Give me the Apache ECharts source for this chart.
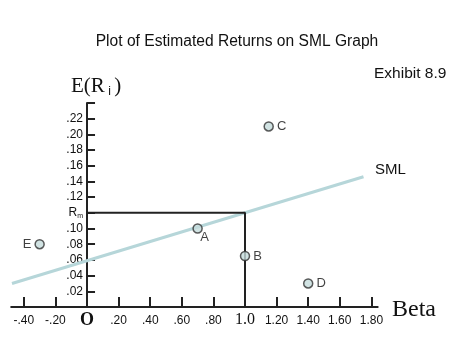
<!DOCTYPE html>
<html>
<head>
<meta charset="utf-8">
<script src="https://cdn.jsdelivr.net/npm/echarts@6/dist/echarts.min.js"></script>
<style>
html,body{margin:0;padding:0;background:#fff;}
#chart{width:474px;height:355px;}
</style>
</head>
<body>
<div id="chart"></div>
<script>
// ---- data (axis units) ----
const pointNames = ['A', 'B', 'C', 'D', 'E'];
const pointBeta = [0.70, 1.00, 1.15, 1.40, -0.30];
const pointReturn = [0.10, 0.065, 0.23, 0.03, 0.08];
const labelPos = ['A', 'right', 'right', 'right', 'left'];

const smlBeta = [-0.475, 1.75];
const smlReturn = [0.030, 0.166];

const rmBeta = [0, 1.0, 1.0];
const rmReturn = [0.12, 0.12, 0];

const xTickValues = [-0.4, -0.2, 0, 0.2, 0.4, 0.6, 0.8, 1.0, 1.2, 1.4, 1.6, 1.8];
const xTickLabels = ['-.40', '-.20', 'O', '.20', '.40', '.60', '.80', '1.0', '1.20', '1.40', '1.60', '1.80'];
const yTickLabels = ['', '.02', '.04', '.06', '.08', '.10', 'Rm', '.12', '.14', '.16', '.18', '.20', '.22', ''];

const X_MIN = -0.48, X_MAX = 1.84;
const GRID_LEFT = 11.2, GRID_RIGHT = 96.3;

const chart = echarts.init(document.getElementById('chart'), null, {renderer: 'canvas'});
const gridWidth = 474 - GRID_LEFT - GRID_RIGHT;
const yAxisOffset = -gridWidth * (0 - X_MIN) / (X_MAX - X_MIN);

const scatterData = pointNames.map((n, i) => {
  const pos = labelPos[i];
  const label = pos === 'A'
    ? {show: true, position: [8, 8], formatter: n}
    : {show: true, position: pos, distance: 3, formatter: n};
  return {name: n, value: [pointBeta[i], pointReturn[i]], label: label};
});

const option = {
  animation: false,
  backgroundColor: '#fff',
  title: {
    text: 'Plot of Estimated Returns on SML Graph',
    left: 'center', top: 29,
    textStyle: {fontFamily: 'Liberation Sans, Arial', fontSize: 15.6, fontWeight: 'normal', color: '#111'}
  },
  grid: {left: GRID_LEFT, right: GRID_RIGHT, top: 102.9, bottom: 48, containLabel: false, outerBoundsMode: 'none'},
  xAxis: {
    type: 'value', min: X_MIN, max: X_MAX,
    axisLine: {onZero: false, lineStyle: {color: '#222', width: 2}},
    splitLine: {show: false},
    axisTick: {inside: true, length: 10, customValues: xTickValues, lineStyle: {color: '#222', width: 2}},
    axisLabel: {
      customValues: xTickValues, margin: 6,
      fontFamily: 'Liberation Sans, Arial', fontSize: 12, color: '#111', lineHeight: 16,
      formatter: function (v) {
        let idx = -1;
        for (let i = 0; i < xTickValues.length; i++) if (Math.abs(xTickValues[i] - v) < 1e-9) idx = i;
        const t = idx >= 0 ? xTickLabels[idx] : '';
        if (t === 'O') return '{o|O}';
        if (t === '1.0') return '{s|1.0}';
        return t;
      },
      rich: {
        o: {fontFamily: 'Liberation Serif, Times New Roman', fontSize: 18, fontWeight: 'bold', color: '#111', lineHeight: 16, padding: [0, 0, 2, 0]},
        s: {fontFamily: 'Liberation Serif, Times New Roman', fontSize: 16, color: '#111', lineHeight: 16, padding: [0, 0, 2, 0]}
      }
    }
  },
  yAxis: {
    type: 'value', min: 0, max: 0.26, interval: 0.02,
    position: 'left', offset: yAxisOffset,
    axisLine: {show: true, onZero: false, lineStyle: {color: '#222', width: 2}},
    splitLine: {show: false},
    axisTick: {show: true, inside: true, length: 8, lineStyle: {color: '#222', width: 2}},
    axisLabel: {
      margin: 4, fontFamily: 'Liberation Sans, Arial', fontSize: 12, color: '#111',
      showMinLabel: true, showMaxLabel: true,
      formatter: function (v) {
        const t = yTickLabels[Math.round(v / 0.02)] || '';
        if (t === 'Rm') return '{r|R}{m|m}';
        return t;
      },
      rich: {
        r: {fontFamily: 'Liberation Sans, Arial', fontSize: 12, color: '#111'},
        m: {fontFamily: 'Liberation Sans, Arial', fontSize: 7, color: '#111', padding: [7, 0, 0, 0]}
      }
    }
  },
  series: [
    {
      type: 'line', data: smlBeta.map((b, i) => [b, smlReturn[i]]),
      symbol: 'none', lineStyle: {color: '#b6d6d9', width: 3}, z: 2
    },
    {
      type: 'line', data: rmBeta.map((b, i) => [b, rmReturn[i]]),
      symbol: 'none', lineStyle: {color: '#222', width: 2}, z: 3
    },
    {
      type: 'scatter', data: scatterData, symbol: 'circle', symbolSize: 9,
      itemStyle: {color: '#c6dcdc', borderColor: '#333', borderWidth: 1.5},
      label: {fontFamily: 'Liberation Sans, Arial', fontSize: 13, color: '#111'},
      z: 5
    }
  ],
  graphic: [
    {type: 'text', left: 374, top: 66, style: {text: 'Exhibit 8.9', font: '15.5px "Liberation Sans", Arial', fill: '#111'}},
    {type: 'text', left: 375, top: 162, style: {text: 'SML', font: '15px "Liberation Sans", Arial', fill: '#111'}},
    {type: 'text', left: 392, top: 298, style: {text: 'Beta', font: '24px "Liberation Serif", "Times New Roman"', fill: '#111'}},
    {type: 'text', left: 71, top: 76, style: {
      text: '{a|E(R}{b| i }{a|)}',
      rich: {
        a: {font: '21px "Liberation Serif", "Times New Roman"', fill: '#111'},
        b: {font: '12px "Liberation Sans", Arial', fill: '#111', padding: [10, 0, 0, 0]}
      }
    }}
  ]
};
chart.setOption(option);
</script>
</body>
</html>
